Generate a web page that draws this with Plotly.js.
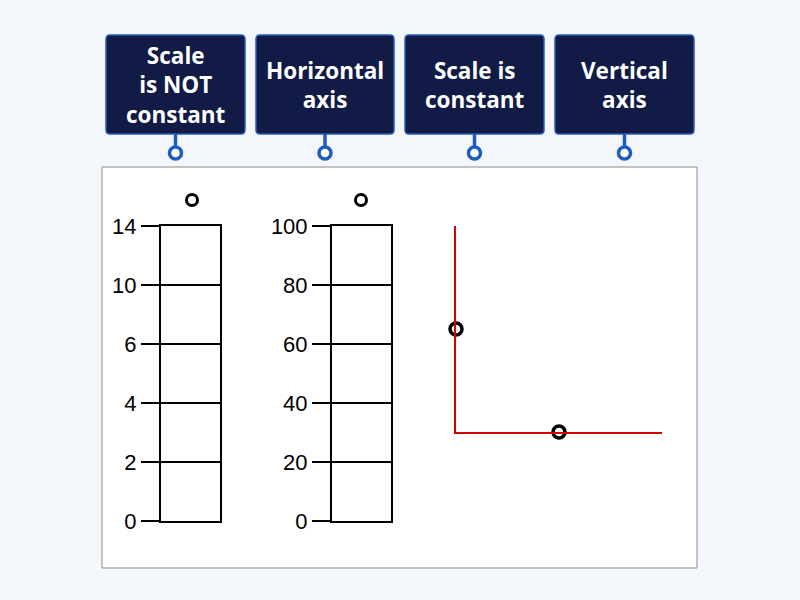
<!DOCTYPE html>
<html>
<head>
<meta charset="utf-8">
<script src="https://cdn.plot.ly/plotly-3.0.1.min.js"></script>
<style>html,body{margin:0;padding:0;background:#f3f7fc;}#chart{width:800px;height:600px;}</style>
</head>
<body>
<div id="chart"></div>
<script>
// ---- data ----
var nonConstantLabels = ["0", "2", "4", "6", "10", "14"];
var nonConstantPositions = [0, 1, 2, 3, 4, 5];
var constantValues = [0, 20, 40, 60, 80, 100];
var constantLabels = ["0", "20", "40", "60", "80", "100"];
var cardLines = [
  ["Scale", "is NOT", "constant"],
  ["Horizontal", "axis"],
  ["Scale is", "constant"],
  ["Vertical", "axis"]
];

// ---- helpers (pixel -> paper) ----
var W = 800, H = 600;
function px(x) { return x / W; }
function py(y) { return 1 - y / H; }
function rr(x0, y0, x1, y1, r) {
  function P(x, y) { return px(x) + "," + py(y); }
  return "M" + P(x0 + r, y0) + " L" + P(x1 - r, y0) + " Q" + P(x1, y0) + " " + P(x1, y0 + r) +
    " L" + P(x1, y1 - r) + " Q" + P(x1, y1) + " " + P(x1 - r, y1) +
    " L" + P(x0 + r, y1) + " Q" + P(x0, y1) + " " + P(x0, y1 - r) +
    " L" + P(x0, y0 + r) + " Q" + P(x0, y0) + " " + P(x0 + r, y0) + " Z";
}

var shapes = [];
var annotations = [];

// white panel
shapes.push({type: "rect", xref: "paper", yref: "paper", layer: "below",
  x0: px(102), x1: px(697), y0: py(568), y1: py(167),
  fillcolor: "#ffffff", line: {color: "#8a8a8a", width: 1}});

// cards
var cardX = [[106, 245], [256, 394], [405, 544], [555, 694]];
var cardTop = 35, cardBottom = 134;
for (var i = 0; i < cardX.length; i++) {
  var x0 = cardX[i][0], x1 = cardX[i][1], cx = (x0 + x1) / 2;
  shapes.push({type: "path", xref: "paper", yref: "paper", layer: "below",
    path: rr(x0, cardTop, x1, cardBottom, 4),
    fillcolor: "#111b45", line: {color: "#2a5cb8", width: 1.5}});
  shapes.push({type: "line", xref: "paper", yref: "paper", layer: "below",
    x0: px(cx), x1: px(cx), y0: py(cardBottom), y1: py(147),
    line: {color: "#1f5cbf", width: 3.5}});
  shapes.push({type: "circle", xref: "paper", yref: "paper", layer: "above",
    x0: px(cx - 6), x1: px(cx + 6), y0: py(159), y1: py(147),
    fillcolor: "#ffffff", line: {color: "#1f5cbf", width: 3.5}});
  annotations.push({xref: "paper", yref: "paper", x: px(cx), y: py(84.5),
    xanchor: "center", yanchor: "middle", showarrow: false, align: "center",
    text: cardLines[i].join("<br>"),
    font: {family: "Open Sans, Noto Sans, sans-serif", size: 22.5, color: "#ffffff", weight: 700}});
}

var tickFont = {family: "Liberation Sans, Arial, sans-serif", size: 22, color: "#000000"};
var openCircle = {symbol: "circle", size: 11, color: "#ffffff", line: {color: "#000000", width: 3}};

var traces = [
  // empty traces so the two scale subplots are drawn
  {type: "scatter", mode: "markers", x: [], y: [], xaxis: "x", yaxis: "y", hoverinfo: "skip"},
  {type: "scatter", mode: "markers", x: [], y: [], xaxis: "x2", yaxis: "y2", hoverinfo: "skip"},
  {type: "scatter", mode: "markers", x: [0.5], y: [0.5], xaxis: "x4", yaxis: "y4",
   cliponaxis: false, hoverinfo: "skip", marker: openCircle},
  {type: "scatter", mode: "markers", x: [0.5], y: [0.5], xaxis: "x5", yaxis: "y5",
   cliponaxis: false, hoverinfo: "skip", marker: openCircle},
  {type: "scatter", mode: "markers", x: [0, 0.5], y: [0.5, 0], xaxis: "x3", yaxis: "y3",
   cliponaxis: false, hoverinfo: "skip",
   marker: {symbol: "circle", size: 12, color: "#ffffff", line: {color: "#000000", width: 3.5}}}
];

var boxX = {showline: true, mirror: true, linecolor: "#000000", linewidth: 2,
  showgrid: false, zeroline: false, showticklabels: false, ticks: "", range: [0, 1], fixedrange: true};
var hidden = {visible: false, range: [0, 1], fixedrange: true};

var layout = {
  width: W, height: H,
  margin: {l: 0, r: 0, t: 0, b: 0},
  paper_bgcolor: "#f3f7fc",
  plot_bgcolor: "rgba(0,0,0,0)",
  showlegend: false,
  xaxis: Object.assign({}, boxX, {domain: [px(161), px(220)], anchor: "y"}),
  yaxis: {domain: [py(521), py(226)], anchor: "x", range: [0, 5],
    tickmode: "array", tickvals: nonConstantPositions, ticktext: nonConstantLabels,
    ticks: "outside", ticklen: 18, tickwidth: 2, tickcolor: "#000000",
    showgrid: true, gridcolor: "#000000", gridwidth: 2, zeroline: false,
    showline: true, mirror: true, linecolor: "#000000", linewidth: 2,
    tickfont: tickFont, fixedrange: true},
  xaxis2: Object.assign({}, boxX, {domain: [px(332), px(391)], anchor: "y2"}),
  yaxis2: {domain: [py(521), py(226)], anchor: "x2", range: [0, 100],
    tickmode: "array", tickvals: constantValues, ticktext: constantLabels,
    ticks: "outside", ticklen: 18, tickwidth: 2, tickcolor: "#000000",
    showgrid: true, gridcolor: "#000000", gridwidth: 2, zeroline: false,
    showline: true, mirror: true, linecolor: "#000000", linewidth: 2,
    tickfont: tickFont, fixedrange: true},
  xaxis3: {domain: [px(456), px(662)], anchor: "y3", range: [0, 1],
    showline: true, linecolor: "#d40000", linewidth: 2, mirror: false,
    showgrid: false, zeroline: false, showticklabels: false, ticks: "", fixedrange: true},
  yaxis3: {domain: [py(432), py(226)], anchor: "x3", range: [0, 1],
    showline: true, linecolor: "#d40000", linewidth: 2, mirror: false,
    showgrid: false, zeroline: false, showticklabels: false, ticks: "", fixedrange: true},
  xaxis4: Object.assign({}, hidden, {domain: [px(162), px(222)], anchor: "y4"}),
  yaxis4: Object.assign({}, hidden, {domain: [py(210), py(190)], anchor: "x4"}),
  xaxis5: Object.assign({}, hidden, {domain: [px(331), px(391)], anchor: "y5"}),
  yaxis5: Object.assign({}, hidden, {domain: [py(210), py(190)], anchor: "x5"}),
  shapes: shapes,
  annotations: annotations
};

Plotly.newPlot("chart", traces, layout, {displayModeBar: false, staticPlot: true});
</script>
</body>
</html>
